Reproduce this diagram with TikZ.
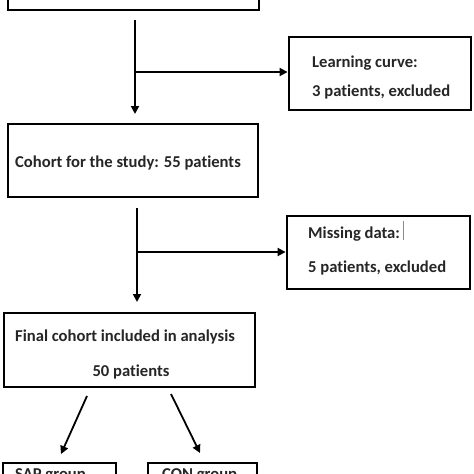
\documentclass[tikz,border=0pt]{standalone}
\usepackage{fontspec}
\setmainfont{Carlito}[Ligatures=NoCommon]
\usetikzlibrary{arrows.meta}
\tikzset{
  box/.style={draw=black, line width=2.8pt, fill=white, inner sep=0pt, anchor=center},
  lbl/.style={font=\bfseries\fontsize{16.6}{18}\selectfont, inner sep=0pt, anchor=base west, text=black!85},
  arr/.style={line width=1.8pt, -{Triangle[length=8pt,width=8pt]}},
  ln/.style={line width=1.8pt}
}
\begin{document}
\begin{tikzpicture}[x=1pt,y=-1pt]
\useasboundingbox (0,0) rectangle (474,474);
\clip (0,0) rectangle (474,474);
% boxes
\node[box, minimum width=251pt, minimum height=40pt] (top) at (133.5,-10) {};
\node[box, minimum width=182pt, minimum height=73pt] (learn) at (380,73.5) {};
\node[box, minimum width=250pt, minimum height=73pt] (cohort) at (133,160.5) {};
\node[box, minimum width=183pt, minimum height=73pt] (miss) at (378.5,252.5) {};
\node[box, minimum width=251pt, minimum height=74pt] (final) at (129.5,350) {};
\node[box, minimum width=113pt, minimum height=37pt] (sap) at (59.5,481.5) {};
\node[box, minimum width=109pt, minimum height=37pt] (con) at (202.5,481.5) {};
% texts
\node[lbl] (t1) at (312,67.5) {Learning curve:};
\node[lbl] (t2) at (312,96.5) {3 patients, excluded};
\node[lbl] (t3) at (15,167.5) {Cohort for the study: 55 patients};
\node[lbl] (t4) at (308,238.5) {Missing data:};
\node[lbl] (t5) at (308,272.5) {5 patients, excluded};
\node[lbl] (t6) at (15,341.5) {Final cohort included in analysis};
\node[lbl, anchor=base] (t7) at (131,376.5) {50 patients};
\node[lbl] (t8) at (15,479) {SAP group};
\node[lbl] (t9) at (162,479) {CON group};
% cursor mark
\coordinate (cur1) at (403,221);
\coordinate (cur2) at (403,240);
\draw[black!45, line width=0.6pt] (cur1) -- (cur2);
% connectors
\coordinate (a1s) at (135,20);
\coordinate (a1e) at (135,114);
\coordinate (b1) at (135,72);
\draw[arr] (a1s) -- (a1e);
\draw[arr] (b1) -- (b1 -| learn.west);
\coordinate (a2s) at (137,208);
\coordinate (a2e) at (137,302);
\coordinate (b2) at (137,252);
\draw[arr] (a2s) -- (a2e);
\draw[arr] (b2) -- (b2 -| miss.west);
\coordinate (d1s) at (87,396);
\coordinate (d1e) at (61,454);
\coordinate (d2s) at (171,394);
\coordinate (d2e) at (200,453);
\draw[arr] (d1s) -- (d1e);
\draw[arr] (d2s) -- (d2e);
\end{tikzpicture}
\end{document}
